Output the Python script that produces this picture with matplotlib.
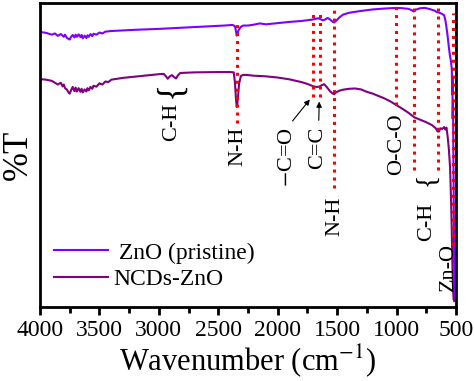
import matplotlib
matplotlib.use('Agg')
import matplotlib.pyplot as plt

plt.rcParams['font.family'] = 'Liberation Serif'
plt.rcParams['mathtext.fontset'] = 'stix'

# Wavenumbers (cm-1) and %T for ZnO (pristine)
wn_zno = [4000, 3950, 3900, 3875, 3850, 3825, 3800, 3790, 3775, 3760, 3750, 3740, 3725,
          3710, 3700, 3690, 3675, 3660, 3650, 3640, 3625, 3610, 3600, 3590, 3575, 3560,
          3550, 3525, 3500, 3475, 3450, 3400, 3300, 3200, 3000, 2800, 2600, 2450, 2380,
          2360, 2350, 2345, 2340, 2330, 2310, 2290, 2250, 2200, 2150, 2100, 2000, 1900,
          1800, 1720, 1680, 1660, 1640, 1620, 1600, 1580, 1560, 1540, 1525, 1510, 1480,
          1450, 1400, 1300, 1200, 1100, 1000, 950, 900, 870, 856, 840, 800, 760, 720,
          680, 660, 640, 620, 600, 590, 580, 570, 560, 550, 545, 540, 535, 532, 530,
          528, 525, 522, 520, 515, 510]
t_zno = [90.5, 90.2, 89.6, 90.0, 89.2, 89.8, 88.9, 89.6, 88.6, 88.2, 88.0, 88.8, 89.5,
         88.7, 89.6, 88.9, 89.7, 88.8, 89.5, 88.4, 89.3, 88.5, 89.4, 88.9, 89.8, 89.1,
         89.9, 89.6, 90.3, 90.0, 90.6, 90.8, 91.0, 91.2, 91.5, 91.9, 92.3, 92.6, 92.8,
         92.4, 90.5, 89.3, 89.8, 91.0, 92.2, 92.6, 92.6, 92.9, 93.3, 93.0, 93.4, 93.8,
         94.1, 94.5, 94.8, 95.0, 94.7, 94.3, 94.6, 95.1, 94.6, 93.9, 93.6, 94.1, 95.3,
         96.2, 96.8, 97.4, 97.9, 98.2, 98.4, 98.3, 98.1, 97.6, 97.2, 97.8, 98.3, 98.4, 98.0,
         97.5, 97.0, 96.8, 96.5, 96.0, 94.5, 92.0, 89.0, 85.5, 82.5, 81.5, 80.0, 78.0, 70.0,
         76.0, 62.0, 68.0, 50.0, 40.0, 15.0, 2.0]

# Wavenumbers (cm-1) and %T for NCDs-ZnO
wn_ncd = [4000, 3950, 3900, 3875, 3850, 3825, 3810, 3800, 3790, 3775, 3760, 3750, 3740,
          3725, 3710, 3700, 3690, 3675, 3660, 3650, 3640, 3625, 3610, 3600, 3590, 3575,
          3560, 3550, 3525, 3500, 3475, 3450, 3425, 3400, 3300, 3200, 3100, 3000, 2960,
          2940, 2925, 2910, 2890, 2870, 2855, 2840, 2820, 2700, 2500, 2400, 2370, 2360,
          2352, 2345, 2340, 2333, 2325, 2310, 2290, 2250, 2200, 2100, 2000, 1900, 1800,
          1750, 1700, 1670, 1650, 1630, 1610, 1590, 1560, 1540, 1525, 1510, 1480, 1450,
          1400, 1350, 1300, 1250, 1200, 1150, 1100, 1050, 1000, 950, 900, 870, 850, 800,
          750, 700, 670, 655, 645, 630, 615, 600, 590, 580, 570, 560, 550, 545, 540, 535,
          530, 525, 520, 515]
t_ncd = [75.0, 74.8, 74.4, 73.8, 73.2, 73.8, 72.6, 73.2, 72.0, 71.6, 70.6, 70.2, 71.2,
         72.4, 71.0, 72.2, 70.9, 72.0, 70.8, 71.8, 70.6, 71.6, 70.9, 72.0, 71.3, 72.4,
         71.8, 72.8, 72.5, 73.6, 73.2, 74.2, 74.0, 74.8, 75.4, 75.8, 76.2, 76.6, 76.7,
         75.9, 75.1, 75.8, 76.3, 75.6, 75.2, 76.2, 77.0, 77.2, 77.3, 77.3, 77.2, 74.0,
         69.0, 65.8, 66.8, 69.5, 73.5, 76.0, 76.4, 76.3, 76.1, 75.9, 75.5, 74.9, 74.0,
         73.4, 72.6, 72.4, 72.5, 73.0, 73.3, 72.5, 71.0, 70.3, 70.0, 70.6, 71.2, 71.5,
         71.8, 71.9, 71.6, 70.8, 70.2, 69.4, 68.6, 67.6, 66.4, 65.2, 63.9, 63.0, 62.4, 61.6,
         60.8, 59.8, 58.8, 57.8, 57.7, 58.8, 58.6, 59.2, 58.4, 59.0, 56.0, 52.0, 46.0, 40.0,
         33.0, 24.0, 14.0, 6.0, 2.5, 2.0]

# Band positions marked with dotted lines and their vertical extent
band_wn = [2340, 1706, 1644, 1524, 1008, 856, 649, 528]
band_top = [94.4, 96.7, 96.7, 97.7, 99.3, 99.3, 99.3, 96.7]
band_bot = [60.5, 69.1, 69.1, 39.1, 66.4, 45.1, 45.1, 20.4]

# Band labels
label_text = ['C-H', 'N-H', r'$-$C=O', 'C=C', 'N-H', 'O-C-O', 'C-H', 'Zn-O']
label_wn = [2889, 2334, 1914, 1660, 1518, 996, 744, 567]
label_top = [67.1, 59.2, 59.2, 59.2, 36.2, 63.8, 34.2, 21.0]

# Braces grouping the C-H bands
brace_wn = [2895, 744]
brace_t = [71.5, 42.0]
brace_size = [26, 20]

fig = plt.figure(figsize=(4.74, 3.81), dpi=100)
ax = fig.add_axes([0.0844, 0.194, 0.8776, 0.798])

ax.plot(wn_zno, t_zno, color='#8000ff', lw=1.5, label=' ZnO (pristine)')
ax.plot(wn_ncd, t_ncd, color='#800080', lw=1.5, label='NCDs-ZnO')

for w, t0, t1 in zip(band_wn, band_top, band_bot):
    ax.plot([w, w], [t1, t0], color='red', ls=(0, (1, 1.6)), lw=2.2, zorder=3)

for txt, w, t in zip(label_text, label_wn, label_top):
    ax.text(w, t, txt, rotation=90, ha='center', va='top', fontsize=16)

for w, t, fs in zip(brace_wn, brace_t, brace_size):
    ax.text(w, t, '{', rotation=90, ha='center', va='center', fontsize=fs)

ax.annotate('', xy=(1715, 69.0), xytext=(1890, 60.5),
            arrowprops=dict(arrowstyle='-|>', color='black', lw=0.8, mutation_scale=8))
ax.annotate('', xy=(1650, 68.5), xytext=(1655, 60.5),
            arrowprops=dict(arrowstyle='-|>', color='black', lw=0.8, mutation_scale=8))

ax.set_xlim(4000, 500)
ax.set_ylim(0, 100)
ax.set_xticks([4000, 3500, 3000, 2500, 2000, 1500, 1000, 500])
ax.set_xticks([3750, 3250, 2750, 2250, 1750, 1250, 750], minor=True)
ax.set_yticks([])
ax.tick_params(axis='x', which='major', direction='out', length=6, width=2, labelsize=17, pad=3)
ax.tick_params(axis='x', which='minor', direction='out', length=4, width=2)
for s in ax.spines.values():
    s.set_linewidth(2)

ax.set_xlabel('Wavenumber (cm$^{-1}$)', fontsize=22, labelpad=1)
ax.set_ylabel('%T', fontsize=25, labelpad=4)

ax.legend(loc='lower left', bbox_to_anchor=(0.0, 0.01), frameon=False, fontsize=17,
          handlelength=2.3, handletextpad=0.2, labelspacing=0.2, borderaxespad=0.2)

fig.savefig('out.png', dpi=100)
